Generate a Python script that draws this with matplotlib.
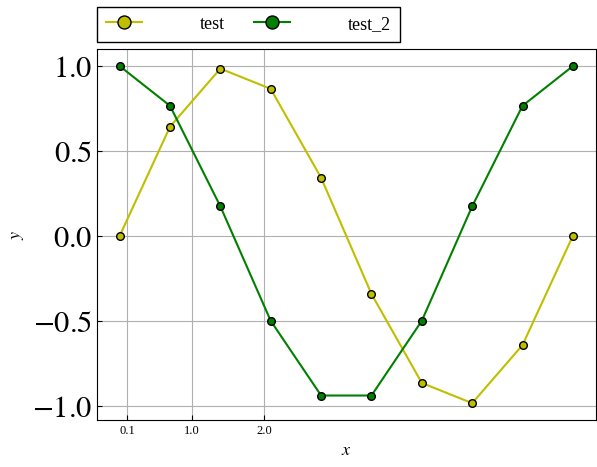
import matplotlib.pyplot as plt

plt.rcParams['font.family'] = ['Liberation Serif', 'DejaVu Serif']
plt.rcParams['mathtext.fontset'] = 'stix'

x = [0.0, 0.698, 1.396, 2.094, 2.793, 3.491, 4.189, 4.887, 5.585, 6.283]
y_test = [0.0, 0.643, 0.985, 0.866, 0.342, -0.342, -0.866, -0.985, -0.643, 0.0]
y_test2 = [1.0, 0.766, 0.174, -0.5, -0.94, -0.94, -0.5, 0.174, 0.766, 1.0]
xticks = [0.1, 1.0, 2.0]
xtick_labels = ['0.1', '1.0', '2.0']
yticks = [-1.0, -0.5, 0.0, 0.5, 1.0]

fig = plt.figure(figsize=(5.97, 4.67), dpi=100)
ax = fig.add_axes([0.1625, 0.1006, 0.835, 0.794])

ax.plot(x, y_test, '-o', color='y', mec='k', ms=5.5, label='test')
ax.plot(x, y_test2, '-o', color='g', mec='k', ms=5.5, label='test_2')

ax.set_xticks(xticks)
ax.set_xticklabels(xtick_labels, fontsize=9)
ax.set_yticks(yticks)
ax.set_yticklabels([r'$%s$' % ('%.1f' % v).replace('-', '−') for v in yticks], fontsize=22)
ax.tick_params(direction='in')
ax.grid(True)
ax.set_xlabel('$x$', fontsize=13)
ax.set_ylabel('$y$', fontsize=13)

ax.legend(loc='lower left', bbox_to_anchor=(0, 1.02, 0.607, 0.1), mode='expand',
          ncol=2, borderaxespad=0, fontsize=13, markerscale=1.7, fancybox=False,
          edgecolor='k', framealpha=1, handletextpad=3.2, borderpad=0.5)

fig.savefig('out.png', dpi=100)
